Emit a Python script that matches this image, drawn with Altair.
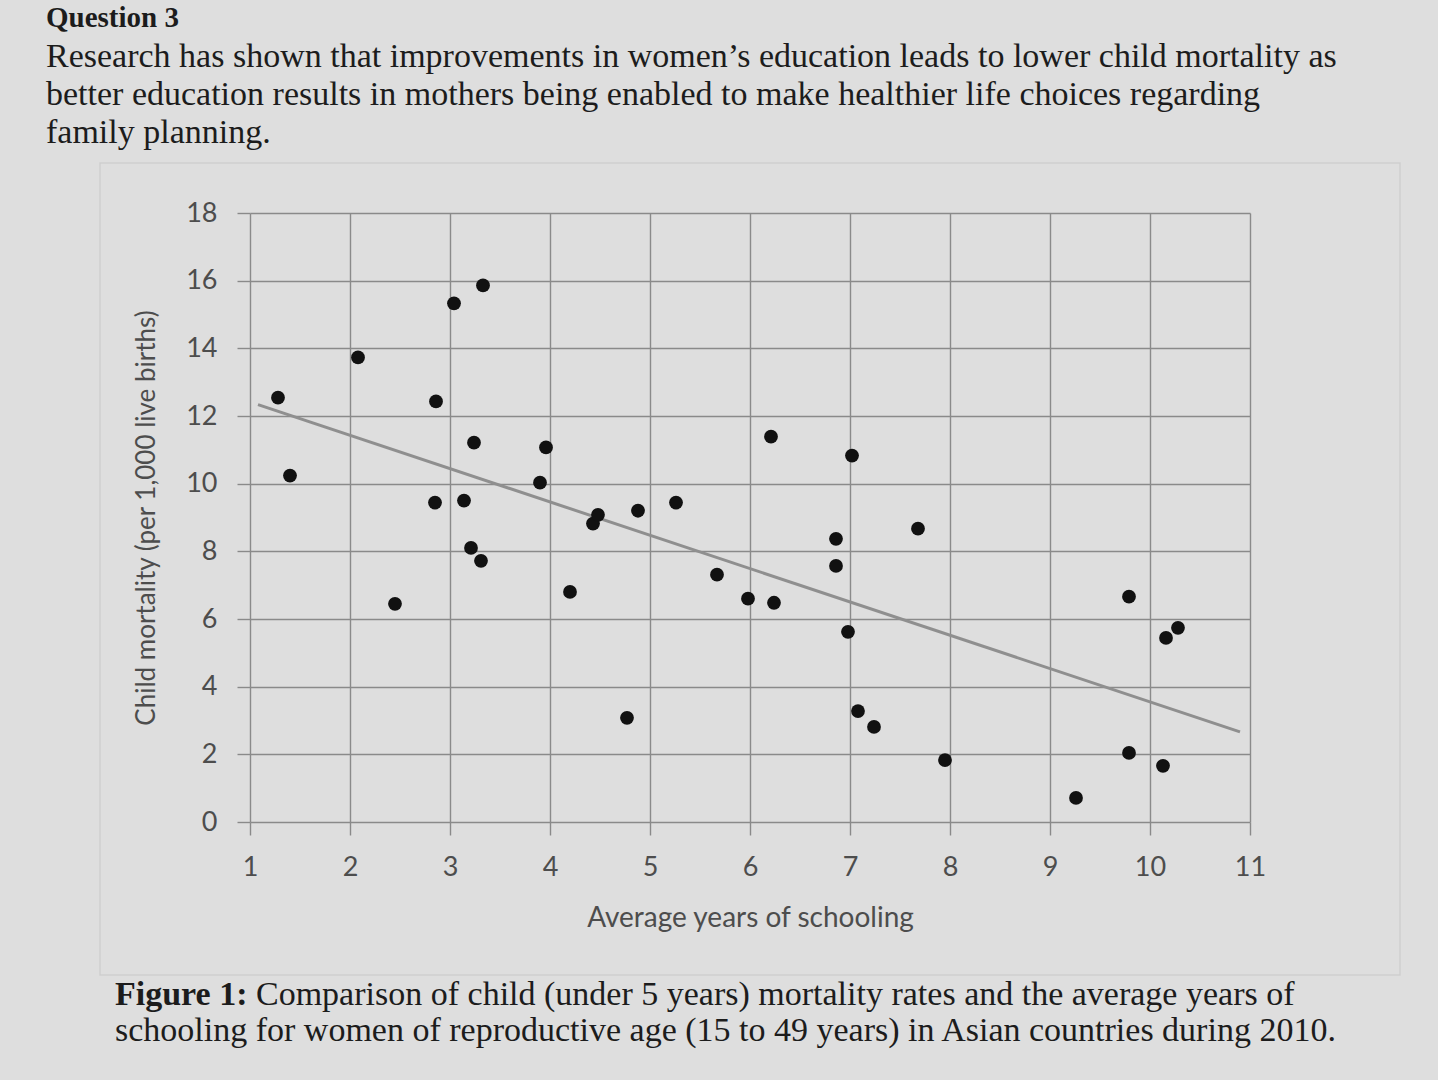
import altair as alt
import pandas as pd

years = [1.28, 1.40, 2.08, 2.45, 2.85, 2.86, 3.04, 3.14, 3.24, 3.21, 3.31, 3.33,
         3.90, 3.96, 4.20, 4.43, 4.48, 4.77, 4.88, 5.26, 5.67, 5.98, 6.24, 6.21,
         6.86, 6.86, 6.98, 7.02, 7.08, 7.24, 7.68, 7.95, 9.26, 9.79, 9.79, 10.13,
         10.16, 10.28]
mortality = [12.54, 10.24, 13.73, 6.45, 9.44, 12.43, 15.33, 9.50, 11.21, 8.10, 7.72, 15.86,
             10.03, 11.07, 6.80, 8.82, 9.08, 3.08, 9.20, 9.44, 7.31, 6.60, 6.48, 11.39,
             8.37, 7.57, 5.62, 10.83, 3.28, 2.81, 8.67, 1.83, 0.71, 6.66, 2.04, 1.66,
             5.44, 5.74]
x_ticks = [1, 2, 3, 4, 5, 6, 7, 8, 9, 10, 11]
y_ticks = [0, 2, 4, 6, 8, 10, 12, 14, 16, 18]

question = "Question 3"
para = [
    "Research has shown that improvements in women\u2019s education leads to lower child mortality as",
    "better education results in mothers being enabled to make healthier life choices regarding",
    "family planning.",
]
cap_bold = "Figure 1:"
cap_rest = "Comparison of child (under 5 years) mortality rates and the average years of"
cap_line2 = "schooling for women of reproductive age (15 to 49 years) in Asian countries during 2010."

df = pd.DataFrame({"years": years, "mortality": mortality})

GRID = "#8a8a8a"
AX = "#4d4d4d"
INK = "#1c1c1c"
SERIF = "Liberation Serif"
SANS = "Lato"

xs = alt.X("years:Q", scale=alt.Scale(domain=[1, 11], nice=False),
           axis=alt.Axis(values=x_ticks, format="d", title="Average years of schooling",
                         grid=True, gridColor=GRID, gridWidth=1.4, domain=False,
                         tickColor=GRID, tickWidth=1.4, tickSize=13, labelFontSize=27,
                         labelFont=SANS, labelColor=AX, labelPadding=19, labelFlush=False,
                         titleFontSize=28, titleFont=SANS, titleFontWeight="normal",
                         titleColor=AX, titlePadding=24))
ys = alt.Y("mortality:Q", scale=alt.Scale(domain=[0, 18], nice=False),
           axis=alt.Axis(values=y_ticks, title="Child mortality (per 1,000 live births)",
                         grid=True, gridColor=GRID, gridWidth=1.4, domain=False,
                         tickColor=GRID, tickWidth=1.4, tickSize=13, labelFontSize=27,
                         labelFont=SANS, labelColor=AX, labelPadding=20, labelFlush=False,
                         titleFontSize=26, titleFont=SANS, titleFontWeight="normal",
                         titleColor=AX, titlePadding=26))

points = alt.Chart(df).mark_circle(size=190, color="#111111", opacity=1).encode(x=xs, y=ys)

trend = alt.Chart(df).transform_regression(
    "years", "mortality", extent=[1.08, 10.9]
).mark_line(color="#8f8f8f", strokeWidth=3).encode(x="years:Q", y="mortality:Q")

one = pd.DataFrame({"k": [0]})

def txt(s, x, y, size=34, bold=False, font=SERIF, color=INK, baseline="middle"):
    return alt.Chart(one).mark_text(
        text=s, align="left", baseline=baseline, font=font, fontSize=size,
        fontWeight="bold" if bold else "normal", color=color
    ).encode(x=alt.value(x), y=alt.value(y))

frame = alt.Chart(one).mark_rect(fill=None, stroke="#cfcfcf", strokeWidth=1.5).encode(
    x=alt.value(-150), x2=alt.value(1150), y=alt.value(-50), y2=alt.value(762))

layers = [
    frame,
    trend,
    points,
    txt(question, -204, -209, size=29, bold=True, baseline="top"),
    txt(para[0], -204, -156),
    txt(para[1], -204, -118),
    txt(para[2], -204, -80),
    txt(cap_bold, -135, 782, bold=True),
    txt(cap_rest, 6, 782),
    txt(cap_line2, -135, 818),
]

chart = alt.layer(*layers).properties(
    width=1000, height=609,
    autosize=alt.AutoSizeParams(type="none"),
    padding={"left": 250, "top": 213, "right": 188, "bottom": 258},
    background="#dedede",
).configure_view(stroke=None)

chart.save("out.html", embed_options={"renderer": "svg", "actions": False})
